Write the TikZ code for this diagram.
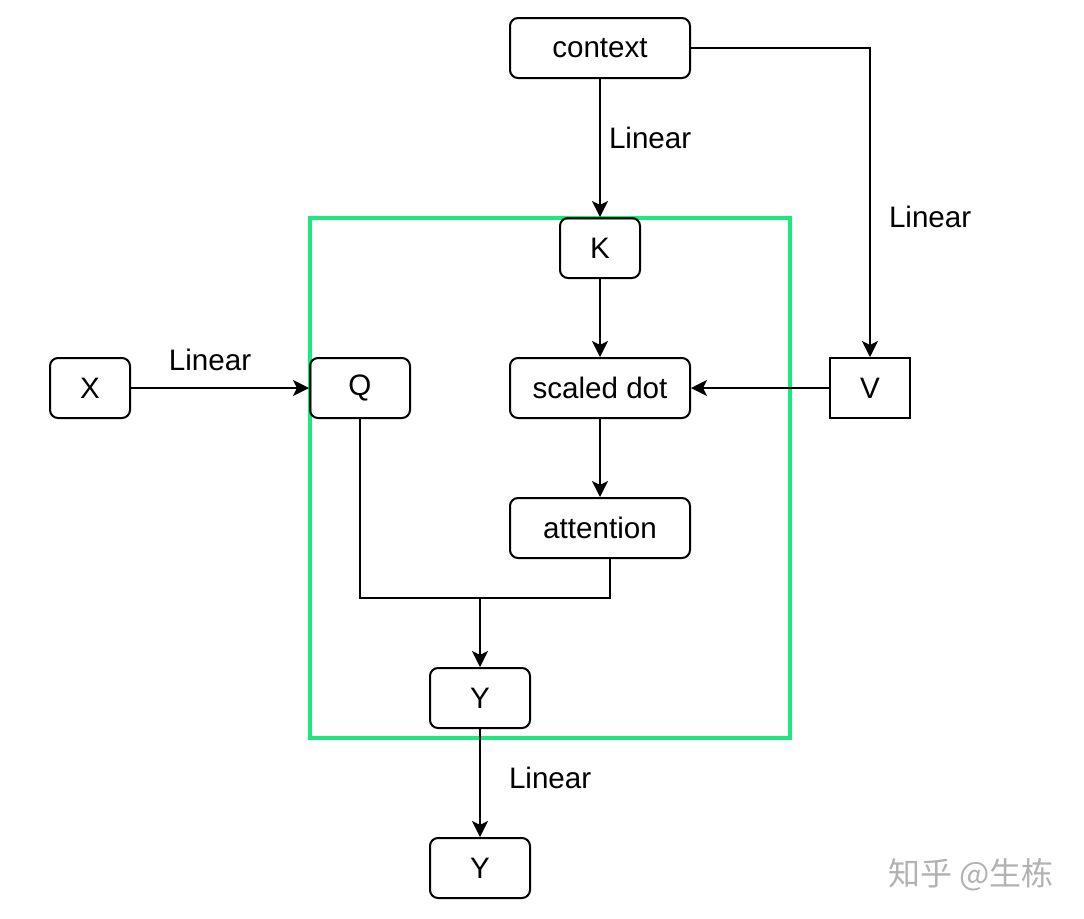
\documentclass[tikz,border=0pt]{standalone}
\usepackage{fontspec}
\setmainfont{Liberation Sans}
\newfontfamily\cjk{Noto Sans CJK SC}
\usetikzlibrary{arrows.meta}
\definecolor{boxgreen}{RGB}{28,232,128}

\begin{document}
\begin{tikzpicture}[
  x=0.5pt, y=-0.5pt,
  font=\fontsize{14.8pt}{17pt}\selectfont,
  block/.style = {
    draw,
    shape=rectangle,
    rounded corners=4pt,
    line width=1pt,
    minimum height=30pt,
    inner sep=0pt,
    align=center
  },
  link/.style = {
    line width=1pt,
    -{Stealth[length=8pt,width=8pt,inset=2pt]}
  },
  lbl/.style = {
    inner sep=0pt
  },
]
  \useasboundingbox (0,0) rectangle (1084,918);

  % the attention block
  \draw[boxgreen, line width=1.8pt] (310,218) rectangle (790,738);

  \node (context)[block, minimum width=90pt] at (600,48) {context};
  \node (k)[block, minimum width=40pt] at (600,248) {K};
  \node (x)[block, minimum width=40pt] at (90,388) {X};
  \node (q)[block, minimum width=50pt] at (360,388) {Q};
  \node (dot)[block, minimum width=90pt] at (600,388) {scaled dot};
  \node (v)[
    block,
    rounded corners=0pt,
    minimum width=40pt
  ] at (870,388) {V};
  \node (attn)[block, minimum width=90pt] at (600,528) {attention};
  \node (y)[block, minimum width=50pt] at (480,698) {Y};
  \node (yout)[block, minimum width=50pt] at (480,868) {Y};
  \coordinate (join) at (480,598);

  \draw[link] (context) -- (k)
    node[lbl, right, pos=0.43, xshift=4pt] {Linear};
  \draw[link] (context.east) -| (v.north)
    node[lbl, right, pos=0.774, xshift=9pt] {Linear};
  \draw[link] (x) -- (q)
    node[lbl, above, midway, yshift=8pt, xshift=-5pt] {Linear};
  \draw[link] (k) -- (dot);
  \draw[link] (v) -- (dot);
  \draw[link] (dot) -- (attn);
  \draw[line width=1pt] (q.south) |- (join);
  \draw[line width=1pt] (attn.south -| 610,0) |- (join);
  \draw[link] (join) -- (y);
  \draw[link] (y) -- (yout)
    node[lbl, right, midway, yshift=2.5pt, xshift=14pt] {Linear};

  \node (mark)[
    text=black!30,
    font=\cjk\fontsize{16pt}{18pt}\selectfont
  ] at (971,875) {知乎 @生栋};
\end{tikzpicture}
\end{document}
